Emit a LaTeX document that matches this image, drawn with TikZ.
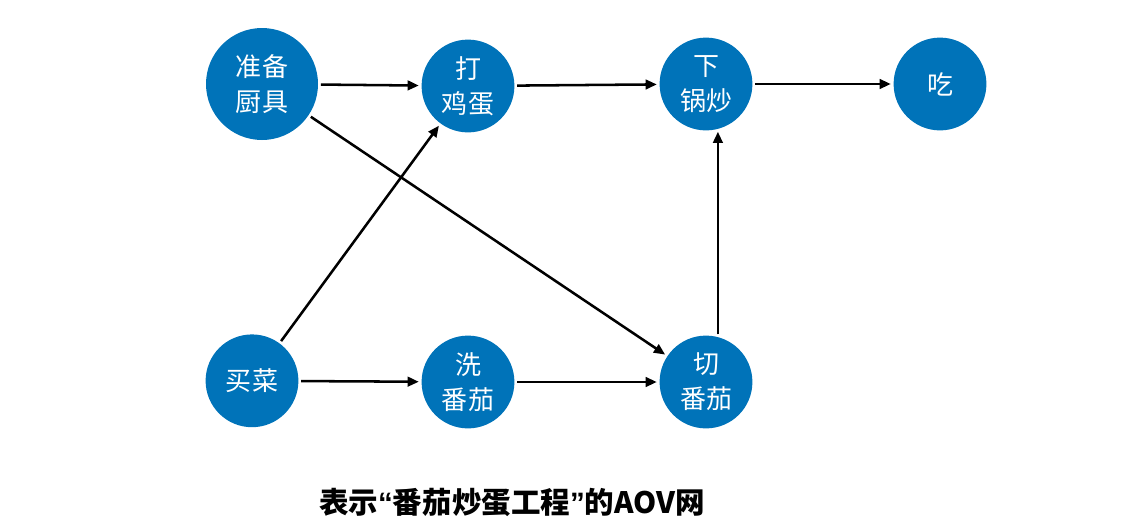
\documentclass[tikz,border=0pt]{standalone}
\usepackage{fontspec}
\newfontfamily\cjk{Noto Sans CJK SC}
\newfontfamily\latn{Liberation Sans}
\usepackage{tikz}
\usetikzlibrary{arrows.meta}
\definecolor{nodeblue}{RGB}{0,115,185}
\tikzset{
  kevent/.style={circle, fill=nodeblue, text=white, align=center, minimum size=2.32cm, inner sep=0pt, outer sep=2pt, font=\cjk\fontsize{18.5}{25}\selectfont},
  kbig/.style={kevent, minimum size=2.8cm},
  flow/.style={-{Triangle[length=2.8mm, width=2.4mm]}, line width=1.8pt},
}
\newcommand{\openq}{{\latn\bfseries “}}
\newcommand{\closeq}{{\latn\bfseries ”}}
\begin{document}
\begin{tikzpicture}
    \useasboundingbox (0,0) rectangle (28.525,-13.25);
    \node[kbig] (prep) at (6.55,-2.10) {准备\\厨具};
    \node[kevent] (egg) at (11.70,-2.15) {打\\鸡蛋};
    \node[kevent] (fry) at (17.65,-2.10) {下\\锅炒};
    \node[kevent] (eat) at (23.50,-2.10) {吃};
    \node[kevent] (buy) at (6.30,-9.52) {买菜};
    \node[kevent] (wash) at (11.70,-9.55) {洗\\番茄};
    \node[kevent] (cut) at (17.65,-9.55) {切\\番茄};
    \node[font=\cjk\bfseries\fontsize{21}{24}\selectfont] (title) at (12.80,-12.55) {表示\openq 番茄炒蛋工程\closeq 的AOV网};
    \draw[flow] (prep) -- (egg);
    \draw[flow] (prep) -- (cut);
    \draw[flow] (buy) -- (egg);
    \draw[flow] (egg) -- (fry);
    \draw[flow] (fry) -- (eat);
    \draw[flow] (buy) -- (wash);
    \draw[flow] (wash) -- (cut);
    \draw[flow] (cut.76) -- (fry.-76);
  \end{tikzpicture}
\end{document}
